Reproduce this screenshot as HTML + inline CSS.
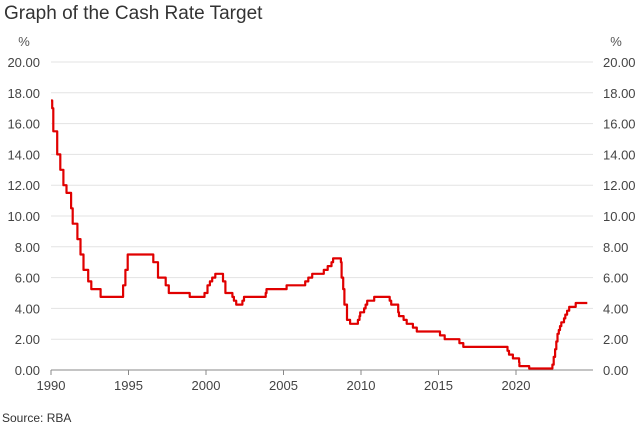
<!DOCTYPE html>
<html><head><meta charset="utf-8"><style>
body{margin:0;background:#fff;}
svg{display:block;font-family:"Liberation Sans",Arial,sans-serif;}
</style></head><body>
<svg id="c" width="640" height="427">
<text x="4" y="19" font-size="19" fill="#333">Graph of the Cash Rate Target</text>
<text x="24" y="46" font-size="13" fill="#555" text-anchor="middle">%</text>
<text x="616" y="46" font-size="13" fill="#555" text-anchor="middle">%</text>
<text x="2" y="422" font-size="12" fill="#333">Source: RBA</text>
<g id="grid"></g><g id="axes"></g><g id="series"></g>
</svg>
<script>
const yTicks=[0,2,4,6,8,10,12,14,16,18,20];
const xTicks=[1990,1995,2000,2005,2010,2015,2020];
const dates=[1990.0,1990.08,1990.15,1990.4,1990.6,1990.8,1991.0,1991.3,1991.4,1991.7,1991.9,1992.1,1992.4,1992.6,1993.2,1993.6,1994.65,1994.8,1994.95,1996.6,1996.9,1997.4,1997.6,1998.95,1999.9,2000.1,2000.25,2000.4,2000.6,2001.1,2001.25,2001.7,2001.8,2001.95,2002.35,2002.45,2003.85,2003.9,2005.2,2006.4,2006.6,2006.85,2007.6,2007.85,2008.1,2008.2,2008.7,2008.75,2008.85,2008.93,2009.1,2009.3,2009.8,2009.9,2009.95,2010.2,2010.3,2010.4,2010.85,2011.85,2011.95,2012.4,2012.45,2012.75,2012.95,2013.35,2013.6,2015.1,2015.4,2016.35,2016.6,2019.45,2019.55,2019.8,2020.2,2020.22,2020.85,2022.35,2022.43,2022.52,2022.6,2022.68,2022.76,2022.84,2022.92,2023.1,2023.18,2023.3,2023.43,2023.85];
const rates=[17.5,17.0,15.5,14.0,13.0,12.0,11.5,10.5,9.5,8.5,7.5,6.5,5.75,5.25,4.75,4.75,5.5,6.5,7.5,7.0,6.0,5.5,5.0,4.75,5.0,5.5,5.75,6.0,6.25,5.75,5.0,4.75,4.5,4.25,4.5,4.75,5.0,5.25,5.5,5.75,6.0,6.25,6.5,6.75,7.0,7.25,7.0,6.0,5.25,4.25,3.25,3.0,3.25,3.5,3.75,4.0,4.25,4.5,4.75,4.5,4.25,3.75,3.5,3.25,3.0,2.75,2.5,2.25,2.0,1.75,1.5,1.25,1.0,0.75,0.5,0.25,0.1,0.35,0.85,1.35,1.85,2.35,2.6,2.85,3.1,3.35,3.6,3.85,4.1,4.35];
const endDate=2024.6;
const X0=51,X1=593,Y0=370,Y1=62;
const x=d=>X0+(d-1990)*15.5;
const y=v=>Y0-(v/20)*(Y0-Y1);
const NS='http://www.w3.org/2000/svg';
function mk(t,a,p){const e=document.createElementNS(NS,t);for(const k in a)e.setAttribute(k,a[k]);p.appendChild(e);return e;}
const grid=document.getElementById('grid'),axes=document.getElementById('axes'),ser=document.getElementById('series');
yTicks.forEach(v=>{
 if(v>0){const g=mk('line',{x1:X0,x2:X1,y1:y(v),y2:y(v),stroke:'#e3e3e3','stroke-width':1},grid);
 
 }
 const l=mk('text',{x:40,y:y(v)+5,'font-size':13,fill:'#444','text-anchor':'end'},axes);l.textContent=v.toFixed(2);
 
 
 const r=mk('text',{x:603,y:y(v)+5,'font-size':13,fill:'#444'},axes);r.textContent=v.toFixed(2);
 
 
});
const ax=mk('line',{x1:X0,x2:X1,y1:Y0,y2:Y0,stroke:'#888','stroke-width':1},axes);


xTicks.forEach(d=>{
 const t=mk('line',{x1:x(d),x2:x(d),y1:Y0,y2:Y0+5,stroke:'#888'},axes);
 
 
 const l=mk('text',{x:x(d),y:Y0+20,'font-size':13,fill:'#444','text-anchor':'middle'},axes);l.textContent=d;
 
 
});
let p='';
for(let i=0;i<dates.length;i++){
 const nx=i+1<dates.length?dates[i+1]:endDate;
 p+=(i?'L':'M')+x(dates[i]).toFixed(1)+','+y(rates[i]).toFixed(1)+'L'+x(nx).toFixed(1)+','+y(rates[i]).toFixed(1);
}
const line=mk('path',{d:p,fill:'none',stroke:'#e00000','stroke-width':2.2,'stroke-linejoin':'round'},ser);


</script>
</body></html>
